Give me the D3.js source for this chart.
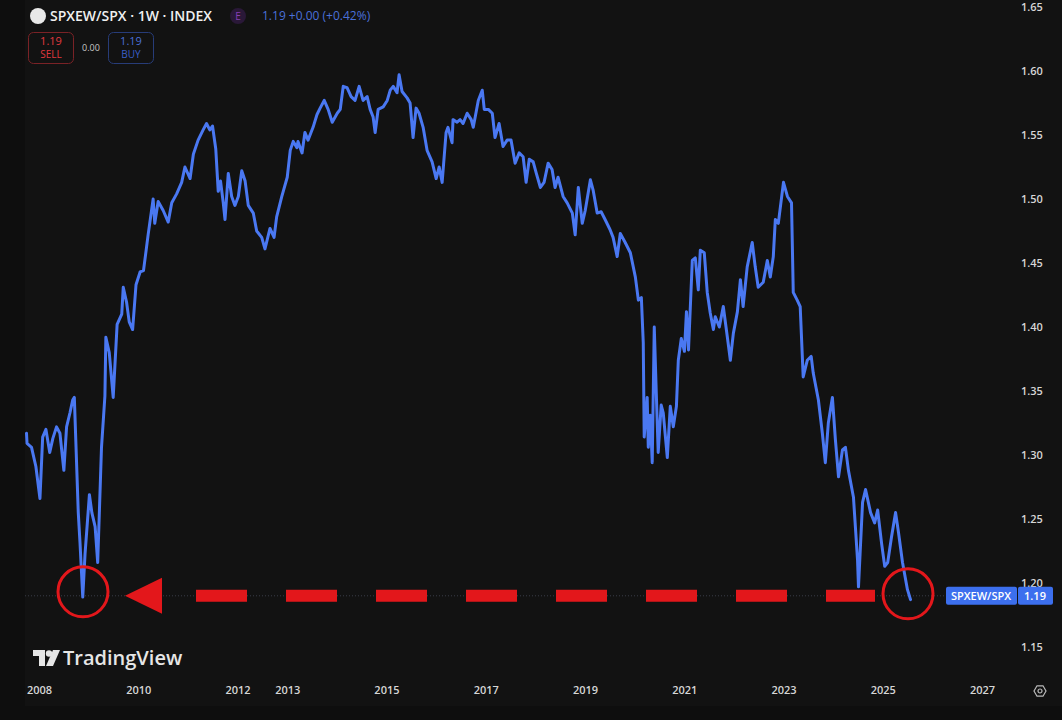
<!DOCTYPE html>
<html>
<head>
<meta charset="utf-8">
<script src="https://cdn.jsdelivr.net/npm/d3@7"></script>
<style>
html,body{margin:0;padding:0;background:#121212;}
svg{display:block;}
</style>
</head>
<body>
<svg id="chart" width="1062" height="720"></svg>
<script>
const dates = ["2007-10-01","2007-10-05","2007-11-07","2007-12-09","2008-01-08","2008-01-28","2008-02-21","2008-03-20","2008-04-12","2008-05-09","2008-06-03","2008-07-02","2008-07-22","2008-08-16","2008-09-05","2008-09-17","2008-10-16","2008-10-29","2008-11-18","2008-12-05","2009-01-06","2009-01-24","2009-02-17","2009-03-08","2009-04-05","2009-04-30","2009-05-07","2009-06-01","2009-06-30","2009-07-29","2009-09-01","2009-09-12","2009-10-07","2009-10-26","2009-11-20","2009-12-15","2010-01-14","2010-02-08","2010-03-02","2010-03-14","2010-04-20","2010-05-02","2010-05-27","2010-07-03","2010-08-09","2010-09-04","2010-10-10","2010-11-16","2010-12-10","2011-01-17","2011-02-10","2011-03-17","2011-04-23","2011-05-18","2011-06-11","2011-07-01","2011-07-25","2011-08-12","2011-08-29","2011-09-18","2011-10-01","2011-10-25","2011-11-19","2011-12-13","2012-01-07","2012-02-01","2012-02-26","2012-03-20","2012-04-26","2012-05-21","2012-06-27","2012-07-21","2012-08-27","2012-09-26","2012-10-15","2012-11-22","2013-01-01","2013-01-23","2013-02-14","2013-03-13","2013-03-21","2013-04-20","2013-05-11","2013-06-03","2013-07-10","2013-08-08","2013-08-31","2013-09-30","2013-10-29","2013-11-28","2014-01-04","2014-01-26","2014-02-17","2014-03-17","2014-04-16","2014-05-15","2014-06-14","2014-07-13","2014-08-12","2014-09-03","2014-09-25","2014-10-10","2014-11-01","2014-12-08","2015-01-07","2015-01-29","2015-02-20","2015-03-20","2015-04-04","2015-04-26","2015-06-02","2015-06-24","2015-07-16","2015-08-07","2015-08-29","2015-09-28","2015-10-27","2015-12-03","2016-01-02","2016-01-24","2016-02-15","2016-03-15","2016-03-29","2016-04-28","2016-05-05","2016-06-04","2016-06-26","2016-07-18","2016-08-17","2016-09-16","2016-10-01","2016-11-07","2016-12-06","2016-12-21","2017-01-20","2017-02-18","2017-03-10","2017-04-09","2017-05-08","2017-06-07","2017-07-06","2017-08-05","2017-09-04","2017-10-03","2017-10-25","2017-11-17","2017-12-16","2018-01-08","2018-02-07","2018-03-06","2018-04-05","2018-05-04","2018-05-26","2018-06-17","2018-07-24","2018-08-23","2018-09-30","2018-10-21","2018-11-13","2018-12-12","2019-01-03","2019-02-10","2019-03-02","2019-04-01","2019-04-30","2019-05-29","2019-07-05","2019-07-27","2019-08-26","2019-09-18","2019-10-24","2019-12-01","2020-01-07","2020-01-29","2020-02-20","2020-03-05","2020-03-12","2020-04-03","2020-04-11","2020-04-26","2020-05-10","2020-05-25","2020-06-09","2020-06-23","2020-07-15","2020-07-30","2020-08-29","2020-09-20","2020-10-12","2020-11-04","2020-11-18","2020-12-10","2021-01-02","2021-01-17","2021-02-01","2021-03-01","2021-03-23","2021-04-14","2021-04-29","2021-05-28","2021-06-19","2021-07-11","2021-08-03","2021-08-17","2021-09-16","2021-10-15","2021-11-14","2021-12-06","2021-12-28","2022-01-27","2022-02-18","2022-03-10","2022-04-09","2022-05-16","2022-06-07","2022-06-29","2022-08-05","2022-09-04","2022-09-26","2022-10-18","2022-11-02","2022-11-24","2023-01-01","2023-01-30","2023-03-01","2023-03-14","2023-04-12","2023-05-04","2023-05-26","2023-06-25","2023-07-24","2023-08-08","2023-09-15","2023-10-14","2023-11-05","2023-11-27","2023-12-27","2024-01-18","2024-02-10","2024-03-10","2024-04-01","2024-04-23","2024-05-30","2024-06-29","2024-07-06","2024-08-05","2024-08-27","2024-10-03","2024-11-02","2024-11-24","2024-12-23","2025-01-15","2025-02-06","2025-03-06","2025-04-05","2025-04-27","2025-05-26","2025-07-01","2025-07-24"];

const values = [1.317,1.309,1.306,1.291,1.266,1.314,1.320,1.302,1.313,1.322,1.317,1.288,1.322,1.333,1.343,1.345,1.255,1.231,1.189,1.223,1.269,1.255,1.244,1.216,1.306,1.346,1.392,1.380,1.345,1.402,1.410,1.431,1.419,1.404,1.398,1.433,1.443,1.444,1.462,1.472,1.500,1.481,1.498,1.491,1.482,1.497,1.504,1.513,1.525,1.516,1.535,1.546,1.554,1.559,1.554,1.557,1.539,1.506,1.514,1.497,1.484,1.520,1.502,1.495,1.502,1.522,1.514,1.495,1.489,1.475,1.470,1.461,1.477,1.470,1.486,1.502,1.517,1.538,1.545,1.540,1.545,1.536,1.552,1.546,1.556,1.566,1.571,1.577,1.570,1.560,1.567,1.570,1.588,1.587,1.580,1.577,1.588,1.577,1.580,1.570,1.564,1.552,1.570,1.572,1.577,1.585,1.588,1.583,1.597,1.584,1.579,1.575,1.548,1.571,1.567,1.556,1.538,1.529,1.516,1.525,1.513,1.552,1.556,1.544,1.562,1.560,1.562,1.559,1.567,1.562,1.556,1.577,1.585,1.570,1.570,1.567,1.548,1.559,1.541,1.546,1.546,1.528,1.536,1.533,1.513,1.531,1.529,1.520,1.509,1.513,1.528,1.523,1.509,1.517,1.502,1.497,1.489,1.472,1.509,1.481,1.491,1.515,1.507,1.489,1.490,1.484,1.476,1.470,1.455,1.473,1.466,1.458,1.439,1.421,1.423,1.388,1.314,1.345,1.306,1.331,1.294,1.400,1.348,1.302,1.339,1.333,1.298,1.338,1.322,1.338,1.374,1.391,1.381,1.412,1.382,1.452,1.454,1.429,1.460,1.458,1.427,1.411,1.398,1.408,1.400,1.416,1.392,1.374,1.395,1.412,1.437,1.416,1.447,1.466,1.447,1.431,1.435,1.452,1.439,1.455,1.484,1.481,1.513,1.502,1.497,1.427,1.421,1.416,1.361,1.374,1.377,1.364,1.343,1.317,1.294,1.325,1.345,1.312,1.283,1.304,1.306,1.288,1.267,1.218,1.197,1.263,1.273,1.255,1.247,1.257,1.231,1.213,1.216,1.236,1.255,1.239,1.216,1.195,1.187];

const xTickYears = [2008,2010,2012,2013,2015,2017,2019,2021,2023,2025,2027];
const yTicks = [1.15,1.20,1.25,1.30,1.35,1.40,1.45,1.50,1.55,1.60,1.65];
const lastValue = 1.19;
const symbol = "SPXEW/SPX";
const headerTitle = "SPXEW/SPX · 1W · INDEX";
const headerChange = "1.19 +0.00 (+0.42%)";

const parse = d3.timeParse("%Y-%m-%d");
const data = dates.map((d,i)=>({date:parse(d), value:values[i]}));

const svg = d3.select("#chart");
const W = 1062, H = 720;

svg.append("rect").attr("width",W).attr("height",H).attr("fill","#0e0e0e");
svg.append("rect").attr("x",25).attr("y",0).attr("width",W-25).attr("height",706).attr("fill","#121212");

const x = d3.scaleTime()
  .domain([new Date(2008,0,1), new Date(2027,0,1)])
  .range([39, 982]);
const y = d3.scaleLinear().domain([1.15,1.65]).range([647,7]);

const font = "'Open Sans', 'Noto Sans', sans-serif";

// x axis
const xAxis = d3.axisBottom(x)
  .tickValues(xTickYears.map(yr=>new Date(yr,0,1)))
  .tickFormat(d3.timeFormat("%Y"))
  .tickSize(0);
const gx = svg.append("g").attr("transform","translate(0,683)").call(xAxis);
gx.select(".domain").remove();
gx.selectAll("text").attr("fill","#d6d6d6").attr("font-family",font)
  .attr("font-size",11).attr("font-weight",600).attr("dy","0.71em");

// y axis
const yAxis = d3.axisRight(y).tickValues(yTicks).tickFormat(d3.format(".2f")).tickSize(0);
const gy = svg.append("g").attr("transform","translate(1021,0)").call(yAxis);
gy.select(".domain").remove();
gy.selectAll("text").attr("fill","#d6d6d6").attr("font-family",font)
  .attr("font-size",11).attr("font-weight",600).attr("x",0);

// price line (dotted)
svg.append("line")
  .attr("x1",25).attr("x2",946)
  .attr("y1",y(lastValue)).attr("y2",y(lastValue))
  .attr("stroke","#3a3d48").attr("stroke-width",1).attr("stroke-dasharray","1,2");

// series line
const line = d3.line().x(d=>x(d.date)).y(d=>y(d.value)).curve(d3.curveLinear);
svg.append("path").datum(data)
  .attr("d",line).attr("fill","none")
  .attr("stroke","#4a78f2").attr("stroke-width",3)
  .attr("stroke-linejoin","round").attr("stroke-linecap","round");

// annotations (red)
const red = "#e3171b";
const yl = y(lastValue);
svg.append("line")
  .attr("x1",196).attr("x2",875)
  .attr("y1",yl).attr("y2",yl)
  .attr("stroke",red).attr("stroke-width",12)
  .attr("stroke-dasharray","51,39");
svg.append("path")
  .attr("d",`M125,${yl} L162,${yl-18} L162,${yl+18} Z`)
  .attr("fill",red);
svg.append("circle").attr("cx",83).attr("cy",yl-4).attr("r",25)
  .attr("fill","none").attr("stroke",red).attr("stroke-width",3);
svg.append("circle").attr("cx",908).attr("cy",yl-2).attr("r",25)
  .attr("fill","none").attr("stroke",red).attr("stroke-width",3);

// price label on axis
const pl = svg.append("g");
pl.append("rect").attr("x",946).attr("y",yl-9).attr("width",71).attr("height",18).attr("rx",2).attr("fill","#3c6fee");
pl.append("rect").attr("x",1018).attr("y",yl-9).attr("width",35).attr("height",18).attr("rx",2).attr("fill","#3c6fee");
pl.append("text").attr("x",981).attr("y",yl+4).attr("text-anchor","middle")
  .attr("fill","#ffffff").attr("font-family",font).attr("font-size",11).attr("font-weight",600).text(symbol);
pl.append("text").attr("x",1035).attr("y",yl+4).attr("text-anchor","middle")
  .attr("fill","#ffffff").attr("font-family",font).attr("font-size",11).attr("font-weight",600).text(d3.format(".2f")(lastValue));

// header
svg.append("circle").attr("cx",38).attr("cy",16).attr("r",8).attr("fill","#e8e8e8");
svg.append("text").attr("x",50).attr("y",21).attr("fill","#f0f0f0")
  .attr("font-family",font).attr("font-size",14).attr("font-weight",600).text(headerTitle);
svg.append("circle").attr("cx",238).attr("cy",16).attr("r",8).attr("fill","#2a1838");
svg.append("text").attr("x",238).attr("y",20).attr("text-anchor","middle").attr("fill","#8a3fb5")
  .attr("font-family",font).attr("font-size",10).text("E");
svg.append("text").attr("x",262).attr("y",20).attr("fill","#4a70d8")
  .attr("font-family",font).attr("font-size",12).text(headerChange);

// sell/buy boxes
svg.append("rect").attr("x",28.5).attr("y",32.5).attr("width",45).attr("height",31).attr("rx",5)
  .attr("fill","none").attr("stroke","#7a2226").attr("stroke-width",1);
svg.append("text").attr("x",51).attr("y",45).attr("text-anchor","middle").attr("fill","#e0393f")
  .attr("font-family",font).attr("font-size",11).text("1.19");
svg.append("text").attr("x",51).attr("y",58).attr("text-anchor","middle").attr("fill","#e0393f")
  .attr("font-family",font).attr("font-size",10).text("SELL");
svg.append("text").attr("x",91).attr("y",51).attr("text-anchor","middle").attr("fill","#c8c8c8")
  .attr("font-family",font).attr("font-size",9).text("0.00");
svg.append("rect").attr("x",108.5).attr("y",32.5).attr("width",45).attr("height",31).attr("rx",5)
  .attr("fill","none").attr("stroke","#273c78").attr("stroke-width",1);
svg.append("text").attr("x",131).attr("y",45).attr("text-anchor","middle").attr("fill","#4a70d8")
  .attr("font-family",font).attr("font-size",11).text("1.19");
svg.append("text").attr("x",131).attr("y",58).attr("text-anchor","middle").attr("fill","#3a5fc8")
  .attr("font-family",font).attr("font-size",10).text("BUY");

// TradingView logo
const logo = svg.append("g").attr("transform","translate(33,650)").attr("fill","#e6e6e6");
logo.append("path").attr("d","M0,0 H12 V16 H6 V6 H0 Z");
logo.append("circle").attr("cx",16).attr("cy",3.5).attr("r",3.2);
logo.append("path").attr("d","M20,0 H27 L20,16 H13 Z");
svg.append("text").attr("x",63).attr("y",665).attr("fill","#e6e6e6")
  .attr("font-family",font).attr("font-size",20).attr("font-weight",600).text("TradingView");

// settings icon
const gear = svg.append("g").attr("transform","translate(1040,691)");
gear.append("path").attr("d","M-6,0 L-3,-5.2 L3,-5.2 L6,0 L3,5.2 L-3,5.2 Z")
  .attr("fill","none").attr("stroke","#bbbbbb").attr("stroke-width",1.2);
gear.append("circle").attr("r",2).attr("fill","none").attr("stroke","#bbbbbb").attr("stroke-width",1.2);
</script>
</body>
</html>
